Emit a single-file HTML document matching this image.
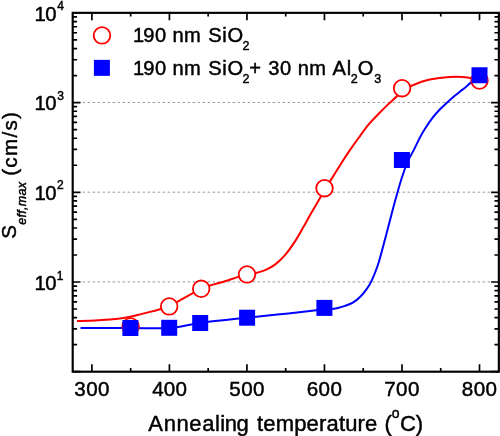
<!DOCTYPE html>
<html><head><meta charset="utf-8"><title>chart</title>
<style>
html,body{margin:0;padding:0;background:#fff;}
body{width:500px;height:436px;overflow:hidden;}
svg{display:block;}
text{font-family:"Liberation Sans",Arial,sans-serif;fill:#000;stroke:#000;stroke-width:0.45px;}
</style></head><body>
<svg width="500" height="436" viewBox="0 0 500 436">
<rect width="500" height="436" fill="#fff"/>

<line x1="82.6" x2="491.85" y1="281.89" y2="281.89" stroke="#999" stroke-width="1" stroke-dasharray="2.5 2.5"/>
<line x1="82.6" x2="491.85" y1="192.18" y2="192.18" stroke="#999" stroke-width="1" stroke-dasharray="2.5 2.5"/>
<line x1="82.6" x2="491.85" y1="102.46" y2="102.46" stroke="#999" stroke-width="1" stroke-dasharray="2.5 2.5"/>
<path d="M91.90 371.7v-7.5 M91.90 12.85v7.5 M130.66 371.7v-3.7 M130.66 12.85v3.7 M169.42 371.7v-7.5 M169.42 12.85v7.5 M208.18 371.7v-3.7 M208.18 12.85v3.7 M246.94 371.7v-7.5 M246.94 12.85v7.5 M285.70 371.7v-3.7 M285.70 12.85v3.7 M324.46 371.7v-7.5 M324.46 12.85v7.5 M363.22 371.7v-3.7 M363.22 12.85v3.7 M401.98 371.7v-7.5 M401.98 12.85v7.5 M440.74 371.7v-3.7 M440.74 12.85v3.7 M479.50 371.7v-7.5 M479.50 12.85v7.5 M72.7 371.70h7.8 M498.85 371.70h-7.8 M72.7 344.69h4.4 M498.85 344.69h-4.4 M72.7 328.90h4.4 M498.85 328.90h-4.4 M72.7 317.69h4.4 M498.85 317.69h-4.4 M72.7 308.99h4.4 M498.85 308.99h-4.4 M72.7 301.89h4.4 M498.85 301.89h-4.4 M72.7 295.88h4.4 M498.85 295.88h-4.4 M72.7 290.68h4.4 M498.85 290.68h-4.4 M72.7 286.09h4.4 M498.85 286.09h-4.4 M72.7 281.99h7.8 M498.85 281.99h-7.8 M72.7 254.98h4.4 M498.85 254.98h-4.4 M72.7 239.18h4.4 M498.85 239.18h-4.4 M72.7 227.98h4.4 M498.85 227.98h-4.4 M72.7 219.28h4.4 M498.85 219.28h-4.4 M72.7 212.18h4.4 M498.85 212.18h-4.4 M72.7 206.17h4.4 M498.85 206.17h-4.4 M72.7 200.97h4.4 M498.85 200.97h-4.4 M72.7 196.38h4.4 M498.85 196.38h-4.4 M72.7 192.28h7.8 M498.85 192.28h-7.8 M72.7 165.27h4.4 M498.85 165.27h-4.4 M72.7 149.47h4.4 M498.85 149.47h-4.4 M72.7 138.26h4.4 M498.85 138.26h-4.4 M72.7 129.57h4.4 M498.85 129.57h-4.4 M72.7 122.47h4.4 M498.85 122.47h-4.4 M72.7 116.46h4.4 M498.85 116.46h-4.4 M72.7 111.26h4.4 M498.85 111.26h-4.4 M72.7 106.67h4.4 M498.85 106.67h-4.4 M72.7 102.56h7.8 M498.85 102.56h-7.8 M72.7 75.56h4.4 M498.85 75.56h-4.4 M72.7 59.76h4.4 M498.85 59.76h-4.4 M72.7 48.55h4.4 M498.85 48.55h-4.4 M72.7 39.86h4.4 M498.85 39.86h-4.4 M72.7 32.75h4.4 M498.85 32.75h-4.4 M72.7 26.75h4.4 M498.85 26.75h-4.4 M72.7 21.54h4.4 M498.85 21.54h-4.4 M72.7 16.96h4.4 M498.85 16.96h-4.4" stroke="#000" stroke-width="1.7" fill="none"/>
<path d="M77.00 321.00 C80.00 320.90 89.50 320.67 95.00 320.40 C100.50 320.13 105.83 319.73 110.00 319.40 C114.17 319.07 116.67 318.85 120.00 318.40 C123.33 317.95 126.67 317.37 130.00 316.70 C133.33 316.03 136.67 315.20 140.00 314.40 C143.33 313.60 146.67 312.77 150.00 311.90 C153.33 311.03 156.80 310.12 160.00 309.20 C163.20 308.28 162.33 309.80 169.20 306.40 C176.07 303.00 191.90 293.00 201.20 288.80 C210.50 284.60 217.37 283.60 225.00 281.20 C232.63 278.80 241.98 275.72 247.00 274.40 C252.02 273.08 252.07 274.00 255.10 273.30 C258.13 272.60 261.83 271.68 265.20 270.20 C268.57 268.72 271.93 267.00 275.30 264.40 C278.67 261.80 282.03 258.57 285.40 254.60 C288.77 250.63 292.55 245.10 295.50 240.60 C298.45 236.10 300.57 232.03 303.10 227.60 C305.63 223.17 308.38 218.07 310.70 214.00 C313.02 209.93 315.03 206.60 317.00 203.20 C318.97 199.80 320.90 196.33 322.50 193.60 C324.10 190.87 325.27 188.97 326.60 186.80 C327.93 184.63 328.05 184.52 330.50 180.60 C332.95 176.68 338.15 168.25 341.30 163.30 C344.45 158.35 346.47 155.20 349.40 150.90 C352.33 146.60 355.72 141.87 358.90 137.50 C362.08 133.13 365.28 128.57 368.50 124.70 C371.72 120.83 374.98 117.65 378.20 114.30 C381.42 110.95 384.60 107.68 387.80 104.60 C391.00 101.52 395.02 98.15 397.40 95.80 C399.78 93.45 399.83 92.13 402.10 90.50 C404.37 88.87 407.18 87.63 411.00 86.00 C414.82 84.37 420.58 81.98 425.00 80.70 C429.42 79.42 433.33 78.92 437.50 78.30 C441.67 77.68 445.83 77.22 450.00 77.00 C454.17 76.78 458.75 76.78 462.50 77.00 C466.25 77.22 469.67 77.75 472.50 78.30 C475.33 78.85 478.33 79.97 479.50 80.30" stroke="#f00" stroke-width="2" fill="none" stroke-linejoin="round"/>
<path d="M80.50 328.00 C88.75 328.00 115.25 328.00 130.00 328.00 C144.75 328.00 157.30 328.83 169.00 328.00 C180.70 327.17 187.20 324.72 200.20 323.00 C213.20 321.28 233.70 319.15 247.00 317.70 C260.30 316.25 269.50 315.42 280.00 314.30 C290.50 313.18 302.67 311.78 310.00 311.00 C317.33 310.22 320.27 309.93 324.00 309.60 C327.73 309.27 330.07 309.27 332.40 309.00 C334.73 308.73 335.90 308.52 338.00 308.00 C340.10 307.48 342.53 306.80 345.00 305.90 C347.47 305.00 350.30 304.08 352.80 302.60 C355.30 301.12 357.63 299.33 360.00 297.00 C362.37 294.67 365.03 291.38 367.00 288.60 C368.97 285.82 370.02 284.15 371.80 280.30 C373.58 276.45 375.92 270.76 377.70 265.50 C379.48 260.24 380.66 255.50 382.50 248.75 C384.34 242.00 386.70 232.79 388.75 225.00 C390.80 217.21 392.61 209.92 394.80 202.00 C396.99 194.08 399.70 184.37 401.90 177.50 C404.10 170.63 406.02 165.37 408.00 160.80 C409.98 156.23 411.75 154.00 413.75 150.10 C415.75 146.20 418.12 140.95 420.00 137.40 C421.88 133.85 422.92 132.05 425.00 128.80 C427.08 125.55 430.00 121.15 432.50 117.90 C435.00 114.65 437.50 111.92 440.00 109.30 C442.50 106.68 445.00 104.50 447.50 102.20 C450.00 99.90 452.50 97.60 455.00 95.50 C457.50 93.40 459.79 91.78 462.50 89.60 C465.21 87.42 468.43 84.63 471.25 82.40 C474.07 80.17 478.04 77.23 479.40 76.20" stroke="#00f" stroke-width="2" fill="none" stroke-linejoin="round"/>
<circle cx="130.6" cy="326.5" r="8.3" fill="#fff" stroke="#f00" stroke-width="1.8"/>
<circle cx="169.2" cy="306.4" r="8.3" fill="#fff" stroke="#f00" stroke-width="1.8"/>
<circle cx="201.2" cy="288.8" r="8.3" fill="#fff" stroke="#f00" stroke-width="1.8"/>
<circle cx="247" cy="274.4" r="8.3" fill="#fff" stroke="#f00" stroke-width="1.8"/>
<circle cx="324.5" cy="188.2" r="8.3" fill="#fff" stroke="#f00" stroke-width="1.8"/>
<circle cx="402.1" cy="88.2" r="8.3" fill="#fff" stroke="#f00" stroke-width="1.8"/>
<circle cx="479.5" cy="80.5" r="8.3" fill="#fff" stroke="#f00" stroke-width="1.8"/>
<rect x="122.4" y="320" width="16" height="16" fill="#00f"/>
<rect x="161.2" y="319.8" width="16" height="16" fill="#00f"/>
<rect x="192.2" y="315" width="16" height="16" fill="#00f"/>
<rect x="239.1" y="309.7" width="16" height="16" fill="#00f"/>
<rect x="316.4" y="299.9" width="16" height="16" fill="#00f"/>
<rect x="393.9" y="152" width="16" height="16" fill="#00f"/>
<rect x="471.5" y="67.25" width="16" height="16" fill="#00f"/>
<rect x="72.7" y="12.85" width="426.15000000000003" height="358.84999999999997" fill="none" stroke="#000" stroke-width="2.15"/>
<circle cx="102" cy="35.4" r="8.3" fill="#fff" stroke="#f00" stroke-width="1.8"/>
<rect x="93.9" y="59.85" width="16" height="16" fill="#00f"/>
<text><tspan x="133.10" y="41.90" font-size="20.1">1</tspan><tspan x="143.36" y="41.90" font-size="20.1" letter-spacing="0.376">90 nm </tspan><tspan x="208.19" y="41.90" font-size="20.1" letter-spacing="0.684">SiO</tspan><tspan x="242.57" y="50.40" font-size="12.5">2</tspan></text>
<text><tspan x="133.10" y="74.60" font-size="20.1">1</tspan><tspan x="143.36" y="74.60" font-size="20.1" letter-spacing="0.376">90 nm </tspan><tspan x="208.19" y="74.60" font-size="20.1" letter-spacing="0.684">SiO</tspan><tspan x="242.57" y="83.10" font-size="12.5">2</tspan><tspan x="249.22" y="74.60" font-size="20.1">+ </tspan><tspan x="268.33" y="74.60" font-size="20.1" letter-spacing="0.457">30 nm </tspan><tspan x="332.46" y="74.60" font-size="20.1" letter-spacing="0.912">Al</tspan><tspan x="350.87" y="83.10" font-size="12.5">2</tspan><tspan x="357.75" y="74.60" font-size="20.1">O</tspan><tspan x="374.32" y="83.10" font-size="12.5">3</tspan></text>
<text><tspan x="74.37" y="396.00" font-size="20.6" letter-spacing="0.360">300</tspan></text>
<text><tspan x="152.20" y="396.00" font-size="20.6" letter-spacing="0.204">400</tspan></text>
<text><tspan x="229.37" y="396.00" font-size="20.6" letter-spacing="0.380">500</tspan></text>
<text><tspan x="306.66" y="396.00" font-size="20.6" letter-spacing="0.490">600</tspan></text>
<text><tspan x="384.17" y="396.00" font-size="20.6" letter-spacing="0.495">700</tspan></text>
<text><tspan x="461.85" y="396.00" font-size="20.6" letter-spacing="0.415">800</tspan></text>
<text><tspan x="34.60" y="290.49" font-size="20.3">1</tspan><tspan x="45.21" y="290.49" font-size="20.3">0</tspan><tspan x="56.69" y="279.59" font-size="12">1</tspan></text>
<text><tspan x="34.60" y="200.38" font-size="20.3">1</tspan><tspan x="45.21" y="200.38" font-size="20.3">0</tspan><tspan x="57.00" y="189.47" font-size="12">2</tspan></text>
<text><tspan x="34.60" y="110.46" font-size="20.3">1</tspan><tspan x="45.21" y="110.46" font-size="20.3">0</tspan><tspan x="57.14" y="99.56" font-size="12">3</tspan></text>
<text><tspan x="34.60" y="20.55" font-size="20.3">1</tspan><tspan x="45.21" y="20.55" font-size="20.3">0</tspan><tspan x="57.32" y="9.65" font-size="12">4</tspan></text>
<text><tspan x="148.36" y="430.80" font-size="22" letter-spacing="0.602">Anneal</tspan><tspan x="220.33" y="430.80" font-size="22" letter-spacing="-0.434">ing </tspan><tspan x="257.07" y="430.80" font-size="22" letter-spacing="0.160">temperature </tspan><tspan x="384.54" y="430.80" font-size="22">(</tspan><tspan x="391.71" y="418.10" font-size="14">o</tspan><tspan x="399.98" y="430.80" font-size="22" letter-spacing="-0.132">C)</tspan></text>
<text transform="rotate(-90)"><tspan x="-238.64" y="15.90" font-size="20.6">S</tspan><tspan x="-224.72" y="25.70" font-size="12.5" font-style="italic" letter-spacing="0.295">eff,max </tspan><tspan x="-175.78" y="16.90" font-size="20.6">(</tspan><tspan x="-167.68" y="16.90" font-size="20.6" letter-spacing="1.302">cm/s)</tspan></text>
</svg></body></html>
